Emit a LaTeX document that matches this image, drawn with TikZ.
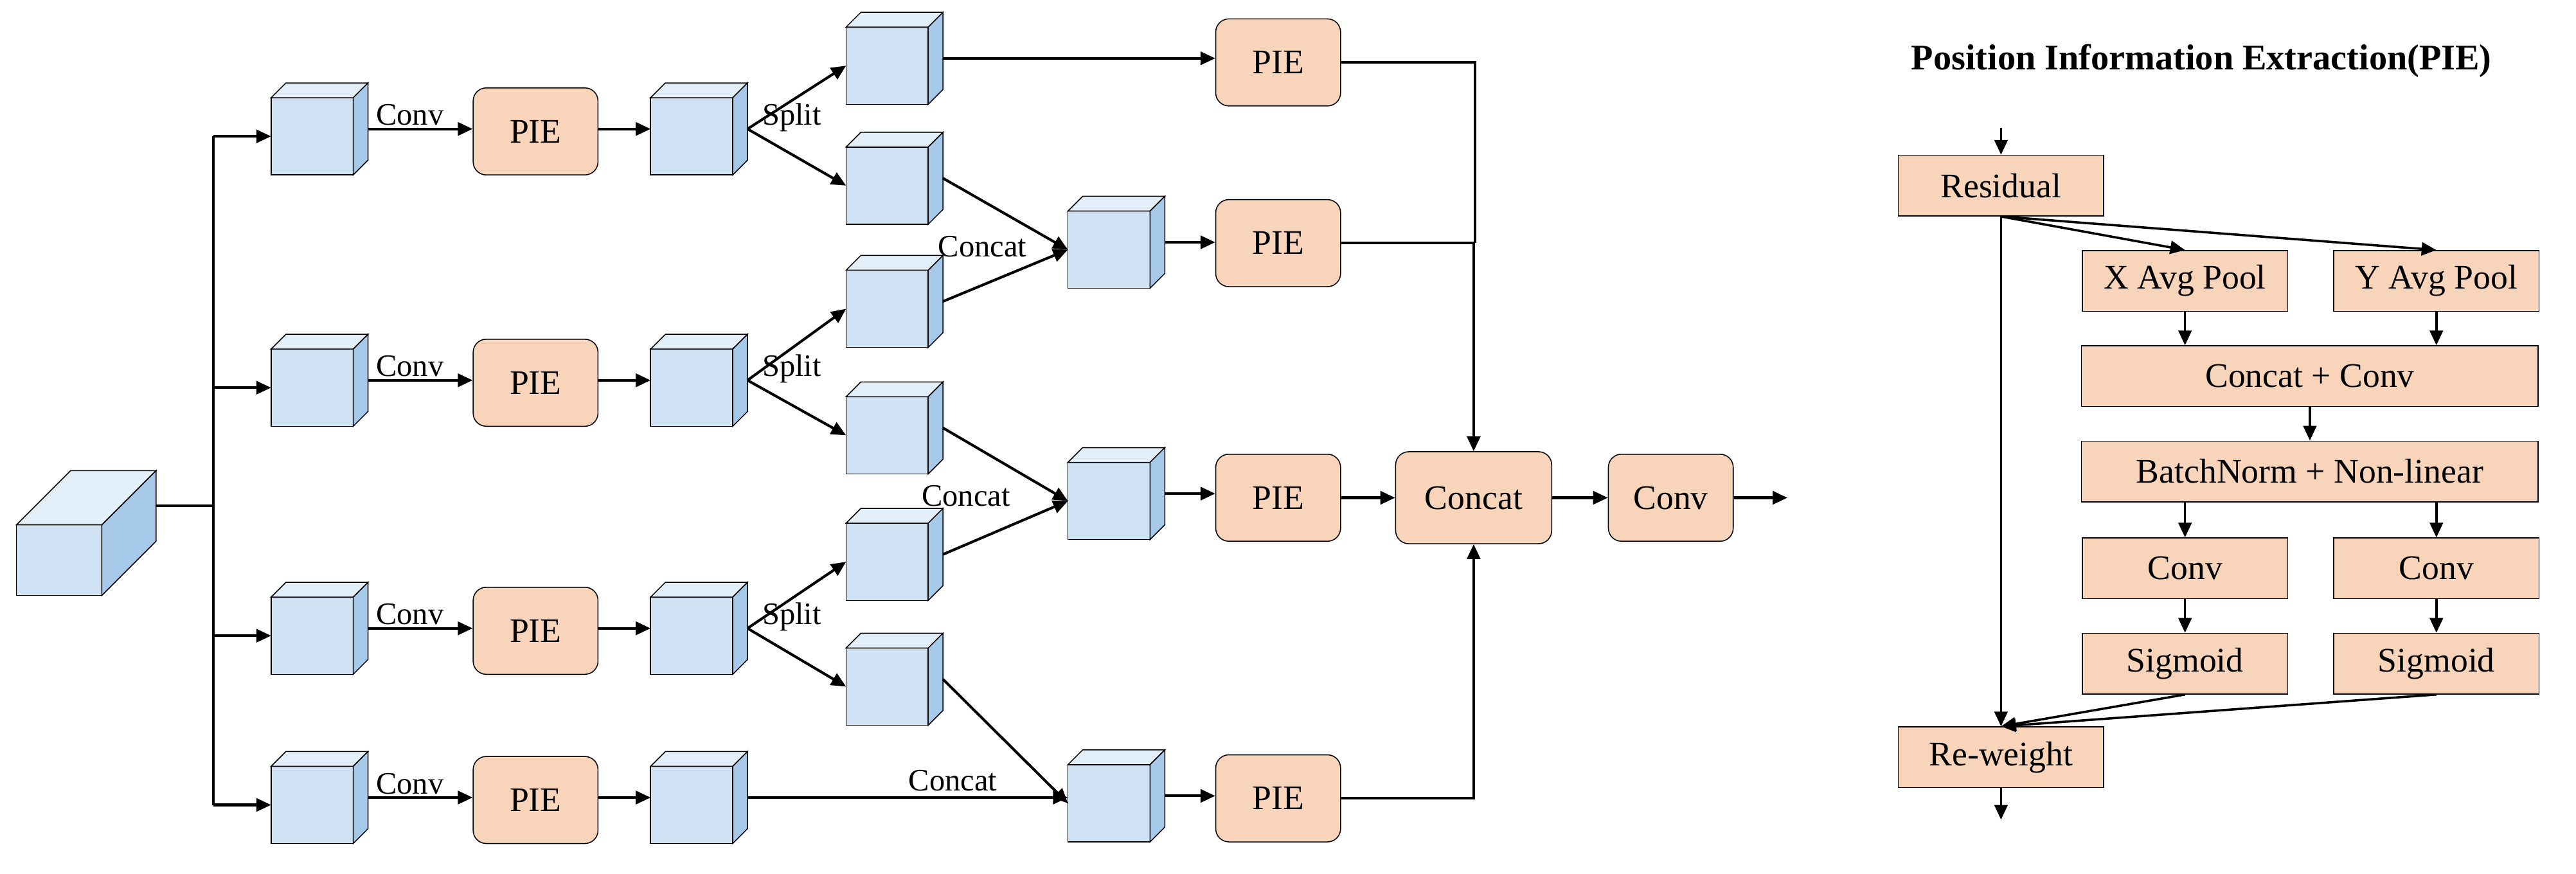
\documentclass[tikz,border=0pt]{standalone}
\usepackage{fontspec}
\setmainfont{Liberation Serif}
\usetikzlibrary{arrows.meta,positioning,calc}

\definecolor{cubefront}{HTML}{CFE2F3}
\definecolor{cubetop}{HTML}{E2EEF8}
\definecolor{cubeside}{HTML}{A6C9E9}
\definecolor{piefill}{HTML}{F7D4BA}

\tikzset{
  flow/.style={line width=1.6pt,-{Triangle[length=9pt,width=8pt]}},
  link/.style={line width=1.6pt},
  face/.style={draw,line width=0.6pt},
  pie/.style={draw,line width=0.6pt,fill=piefill,rounded corners=8pt,
    minimum width=76pt,minimum height=53pt,font=\rmfamily\fontsize{21}{24}\selectfont},
  pbox/.style={draw,line width=0.6pt,fill=piefill,minimum width=125pt,
    minimum height=37pt,font=\rmfamily\fontsize{21}{24}\selectfont},
  lbl/.style={font=\rmfamily\fontsize{19}{22}\selectfont}
}

% feature cube: name, x, y, width, height, depth
\newcommand\featcube[6]{%
  \node[face,fill=cubefront,outer sep=0pt,inner sep=0pt,
    minimum width=#4pt,minimum height=#5pt] (#1) at (#2,#3) {};
  \filldraw[face,fill=cubetop] (#1.north west) -- ++(#6pt,#6pt) -- ++(#4pt,0pt)
    -- (#1.north east) -- cycle;
  \filldraw[face,fill=cubeside] (#1.north east) -- ++(#6pt,#6pt) -- ++(0pt,-#5pt)
    -- (#1.south east) -- cycle;
  \coordinate (#1-out) at ([xshift=#6pt,yshift=#6pt/2]#1.east);
}

\begin{document}
\begin{tikzpicture}[x=1pt,y=-1pt]
\useasboundingbox (0,0) rectangle (1568,532);

% Input
\featcube{in}{36}{341}{52}{43}{33}
\coordinate (trunk) at (130,308);
\draw[link] (in-out |- trunk) -- (trunk);
\draw[link] (130,83) -- (130,490);

% Four branches
\foreach \r/\y in {1/83,2/236,3/387,4/490}{
  \featcube{a\r}{190}{\y}{50}{47}{9}
  \draw[flow] (130,\y) -- (a\r.west);
  \node[pie] (pa\r) at (326,\y-3) {PIE};
  \draw[flow] (a\r-out) -- node[lbl,above,pos=0.4,yshift=-2pt] {Conv} (pa\r.west |- a\r-out);
  \featcube{b\r}{421}{\y}{50}{47}{9}
  \draw[flow] (pa\r.east |- a\r-out) -- (b\r.west |- a\r-out);
}

% Split cubes
\foreach \k/\y in {1/40,2/113,3/188,4/265,5/342,6/418}{
  \featcube{s\k}{540}{\y}{50}{47}{9}
}
\foreach \r/\u/\d in {1/1/2,2/3/4,3/5/6}{
  \draw[flow] (b\r-out) -- (s\u.west);
  \draw[flow] (b\r-out) -- (s\d.west);
  \node[lbl] at ($(b\r-out)+(27,-7)$) {Split};
}

% Merged cubes
\featcube{m1}{675}{152}{50}{47}{9}
\featcube{m2}{675}{305}{50}{47}{9}
\featcube{m3}{675}{489}{50}{47}{9}
\draw[flow] (s2-out) -- (m1.west);
\draw[flow] (s3-out) -- (m1.west);
\draw[flow] (s4-out) -- (m2.west);
\draw[flow] (s5-out) -- (m2.west);
\draw[flow] (s6-out) -- (m3.west);
\draw[flow] (b4-out) -- (m3.west |- b4-out);
\node[lbl] at (598,150) {Concat};
\node[lbl] at (588,302) {Concat};
\node[lbl] at (580,475) {Concat};

% PIE column
\node[pie] (p1) at (778,38) {PIE};
\node[pie] (p2) at (778,148) {PIE};
\node[pie] (p3) at (778,303) {PIE};
\node[pie] (p4) at (778,486) {PIE};
\draw[flow] (s1-out) -- (p1.west |- s1-out);
\draw[flow] (m1-out) -- (p2.west |- m1-out);
\draw[flow] (m2-out) -- (p3.west |- m2-out);
\draw[flow] (m3-out) -- (p4.west |- m3-out);

% Fusion
\node[pie,minimum width=95pt,minimum height=56pt] (cat) at (897,303) {Concat};
\node[pie] (conv) at (1017,303) {Conv};
\coordinate (out) at (1088,303);
\draw[link] (p1.east) -| (898,148);
\draw[flow] (p2.east) -| (cat.north);
\draw[flow] (p3.east) -- (cat.west);
\draw[flow] (p4.east) -| (cat.south);
\draw[flow] (cat.east) -- (conv.west);
\draw[flow] (conv.east) -- (out);

% PIE detail
\node[font=\rmfamily\bfseries\fontsize{22}{26}\selectfont] (title) at (1340,37) {Position Information Extraction(PIE)};
\node[pbox] (res) at (1218,113) {Residual};
\node[pbox] (xp) at (1330,171) {X Avg Pool};
\node[pbox] (yp) at (1483,171) {Y Avg Pool};
\node[pbox,minimum width=278pt] (cc) at (1406,229) {Concat + Conv};
\node[pbox,minimum width=278pt] (bn) at (1406,287) {BatchNorm + Non-linear};
\node[pbox] (cv1) at (1330,346) {Conv};
\node[pbox] (cv2) at (1483,346) {Conv};
\node[pbox] (sg1) at (1330,404) {Sigmoid};
\node[pbox] (sg2) at (1483,404) {Sigmoid};
\node[pbox] (rw) at (1218,461) {Re-weight};
\coordinate (pin) at (1218,78);
\coordinate (pout) at (1218,499);

\begin{scope}[flow/.append style={line width=1.4pt}]
\draw[flow] (pin) -- (res.north);
\draw[flow] (res.south) -- (xp.north);
\draw[flow] (res.south) -- (yp.north);
\draw[flow] (res.south) -- (rw.north);
\draw[flow] (xp.south) -- (xp.south |- cc.north);
\draw[flow] (yp.south) -- (yp.south |- cc.north);
\draw[flow] (cc.south) -- (bn.north);
\draw[flow] (bn.south -| cv1.north) -- (cv1.north);
\draw[flow] (bn.south -| cv2.north) -- (cv2.north);
\draw[flow] (cv1.south) -- (sg1.north);
\draw[flow] (cv2.south) -- (sg2.north);
\draw[flow] (sg1.south) -- (rw.north);
\draw[flow] (sg2.south) -- (rw.north);
\draw[flow] (rw.south) -- (pout);
\end{scope}
\end{tikzpicture}
\end{document}
